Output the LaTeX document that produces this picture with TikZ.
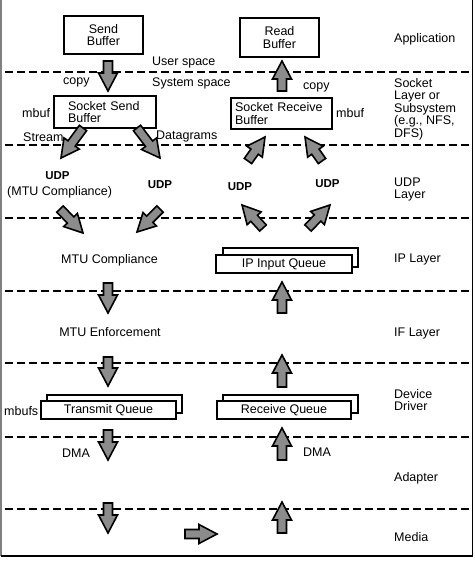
\documentclass[tikz,border=0pt]{standalone}
\usepackage{fontspec}
\setmainfont{Liberation Sans}
\newcommand\lblfont{\fontsize{12.5}{12.5}\selectfont}
\newcommand\udpfont{\fontsize{11.5}{12}\selectfont\bfseries}
\newcommand\barr[5]{%
  \coordinate (#1-t) at (#2,#3);
  \coordinate (#1-h) at (#4,#5);
  \pgfmathsetmacro\bdx{(#4)-(#2)}%
  \pgfmathsetmacro\bdy{(#5)-(#3)}%
  \pgfmathsetmacro\blen{veclen(\bdx,\bdy)}%
  \pgfmathsetmacro\bux{\bdx/\blen}%
  \pgfmathsetmacro\buy{\bdy/\blen}%
  \pgfmathsetmacro\bnx{0-\buy}%
  \pgfmathsetmacro\bny{\bux}%
  \pgfmathsetmacro\nkx{(#4)-18*\bux}%
  \pgfmathsetmacro\nky{(#5)-18*\buy}%
  \pgfmathsetmacro\pax{(#2)+4.5*\bnx}\pgfmathsetmacro\pay{(#3)+4.5*\bny}%
  \pgfmathsetmacro\pbx{\nkx+4.5*\bnx}\pgfmathsetmacro\pby{\nky+4.5*\bny}%
  \pgfmathsetmacro\pcx{\nkx+9.5*\bnx}\pgfmathsetmacro\pcy{\nky+9.5*\bny}%
  \pgfmathsetmacro\pdx{\nkx-9.5*\bnx}\pgfmathsetmacro\pdy{\nky-9.5*\bny}%
  \pgfmathsetmacro\pex{\nkx-4.5*\bnx}\pgfmathsetmacro\pey{\nky-4.5*\bny}%
  \pgfmathsetmacro\pfx{(#2)-4.5*\bnx}\pgfmathsetmacro\pfy{(#3)-4.5*\bny}%
  \draw[barrow] (\pax,\pay) -- (\pbx,\pby) -- (\pcx,\pcy) -- (#1-h) -- (\pdx,\pdy) -- (\pex,\pey) -- (\pfx,\pfy) -- cycle;
}
\begin{document}
\begin{tikzpicture}[x=1pt,y=-1pt,
  every node/.style={font=\lblfont},
  barrow/.style={draw=black, fill=black!45, line width=1.6pt, line join=miter},
  layerline/.style={draw=black, line width=1.4pt, dash pattern=on 7.5pt off 4.5pt},
  bufbox/.style={draw=black, line width=1.4pt, fill=white, inner sep=0pt, align=center},
  qbox/.style={draw=black, line width=1.3pt, fill=white, inner sep=0pt},
  lbl/.style={inner sep=0pt, anchor=west, align=left},
  clbl/.style={inner sep=0pt},
  udp/.style={inner sep=0pt, font=\udpfont}]
\useasboundingbox (0,0) rectangle (474,565);
\fill[white] (0,0) rectangle (474,565);
% frame
\draw[black!50, line width=2.2pt] (1.1,0) -- (1.1,556);
\draw[black, line width=1.8pt] (1,556) -- (472.5,556) -- (472.5,0);
% layer lines
\foreach \yy in {72,145,218,291,363,437,509}
  \draw[layerline] (5,\yy) -- (470,\yy);
% buffer boxes
\node[bufbox, minimum width=79pt, minimum height=38pt] (sendbuf) at (103.5,35) {Send\\Buffer};
\node[bufbox, minimum width=79pt, minimum height=39pt] (readbuf) at (279.5,37.5) {Read\\Buffer};
\node[bufbox, minimum height=32pt, inner xsep=14pt, text width=74pt, align=left] (ssb) at (105,112) {Socket Send\\Buffer};
\node[bufbox, minimum height=31pt, inner xsep=4pt, text width=93pt, align=left] (srb) at (281.5,113.5) {Socket Receive\\Buffer};
% queues (back then front)
\node[qbox, minimum width=135pt, minimum height=19pt] (ipqb) at (290.5,257.5) {};
\node[qbox, minimum width=136pt, minimum height=18pt] (ipq) at (284,264) {IP Input Queue};
\node[qbox, minimum width=135pt, minimum height=18pt] (tqb) at (114.5,404) {};
\node[qbox, minimum width=135pt, minimum height=18pt] (tq) at (108.5,410) {Transmit Queue};
\node[qbox, minimum width=135pt, minimum height=18pt] (rqb) at (290.5,404) {};
\node[qbox, minimum width=134pt, minimum height=18pt] (rq) at (284,410) {Receive Queue};
% text labels
\node[lbl] (userspace) at (152,62) {User space};
\node[lbl] (systemspace) at (152,83) {System space};
\node[lbl] (copyl) at (63,82) {copy};
\node[lbl] (copyr) at (303,87) {copy};
\node[lbl] (mbufl) at (22,113) {mbuf};
\node[lbl] (mbufr) at (336,113) {mbuf};
\node[lbl] (stream) at (23,137) {Stream};
\node[lbl] (datagrams) at (156,136) {Datagrams};
\node[udp] (udp1) at (57.5,176) {UDP};
\node[lbl] (mtuc1) at (7,192) {(MTU Compliance)};
\node[udp] (udp2) at (160,185) {UDP};
\node[udp] (udp3) at (240,187) {UDP};
\node[udp] (udp4) at (327.5,184) {UDP};
\node[clbl] (mtuc) at (109.5,260) {MTU Compliance};
\node[clbl] (mtue) at (110,332) {MTU Enforcement};
\node[clbl] (dmal) at (76,453) {DMA};
\node[clbl] (dmar) at (317,452) {DMA};
\node[lbl] (mbufs) at (4,411) {mbufs};
% layer names
\node[lbl] (lapp) at (394,39) {Application};
\node[lbl] (lsock) at (394,109) {Socket\\Layer or\\Subsystem\\(e.g., NFS,\\DFS)};
\node[lbl] (ludp) at (394,189.5) {UDP\\Layer};
\node[lbl] (lip) at (394,259) {IP Layer};
\node[lbl] (lif) at (394,333) {IF Layer};
\node[lbl] (ldev) at (394,400) {Device\\Driver};
\node[lbl] (ladp) at (394,478) {Adapter};
\node[lbl] (lmed) at (394,537) {Media};
% block arrows: send side
\barr{s1}{108}{61}{108}{91}
\barr{s2}{83}{128}{61}{158}
\barr{s3}{137}{128}{160}{158}
\barr{s4}{60}{209}{83}{233}
\barr{s5}{160}{209}{137}{232}
\barr{s6}{108}{283}{108}{313}
\barr{s7}{108}{357}{108}{386}
\barr{s8}{108}{430}{108}{460}
\barr{s9}{108}{503}{108}{533}
\barr{m1}{185}{534}{217}{534}
% receive side
\barr{r1}{282}{91}{282}{61}
\barr{r2}{248}{161}{265}{137}
\barr{r3}{322}{161}{305}{137}
\barr{r4}{263}{228}{242}{205}
\barr{r5}{308}{228}{330}{205}
\barr{r6}{282}{313}{282}{282}
\barr{r7}{282}{387}{282}{355}
\barr{r8}{282}{460}{282}{428}
\barr{r9}{282}{533}{282}{502}
\end{tikzpicture}
\end{document}
